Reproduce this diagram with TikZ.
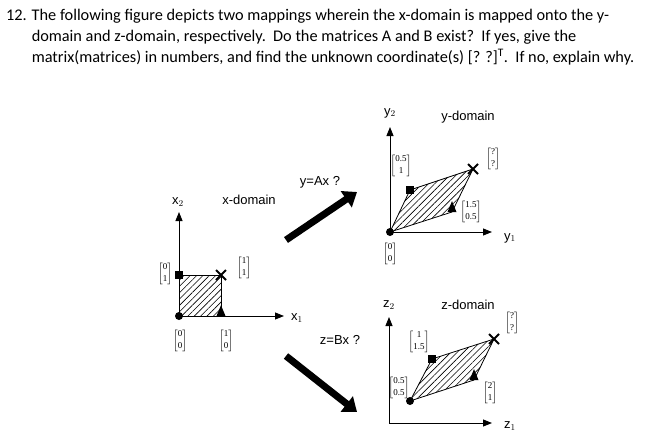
\documentclass[tikz,border=0pt]{standalone}
\usepackage{amsmath}
\usepackage{fontspec}
\setmainfont{Carlito}
\newfontfamily\arialf{Liberation Sans}
\newfontfamily\serf{Liberation Serif}
\usetikzlibrary{arrows.meta,patterns.meta,shapes.geometric,shapes.misc}
\tikzset{
 ax/.style={line width=0.9pt,-{Triangle[length=9pt,width=7pt]}},
 lab/.style={font=\arialf\fontsize{13}{13}\selectfont,inner sep=0},
 mat/.style={font=\serf\fontsize{9}{9}\selectfont,inner sep=0},
 region/.style={draw,line width=0.8pt,pattern={Lines[angle=45,distance=4.5pt,line width=0.6pt]}},
 big/.style={line width=7pt,-{Triangle[length=13pt,width=19pt]}},
 dotm/.style={circle,fill,inner sep=0,minimum size=8pt},
 sqm/.style={rectangle,fill,inner sep=0,minimum size=8pt},
 trim/.style={isosceles triangle,shape border rotate=90,fill,inner sep=0,minimum height=7pt,minimum width=9pt},
 xm/.style={cross out,draw,line width=2pt,inner sep=0,minimum size=8pt}
}
\newcommand{\vm}[2]{$\left[\begin{matrix}\text{#1}\\[3pt]\text{#2}\end{matrix}\right]$}
\begin{document}
\begin{tikzpicture}[x=1pt,y=-1pt]
\useasboundingbox[fill=white] (0,0) rectangle (646,434);
\node[anchor=west,align=left,font=\fontsize{16.3}{21}\selectfont,inner sep=0] (q) at (6,37) {12. The following figure depicts two mappings wherein the x-domain is mapped onto the y-\\
\hphantom{12. }domain and z-domain, respectively.\ \ Do the matrices A and B exist?\ \ If yes, give the\\
\hphantom{12. }matrix(matrices) in numbers, and find the unknown coordinate(s) [? ?]$^{\mathrm{T}}$.\ \ If no, explain why.};
% x-domain
\coordinate (xo) at (179,316);
\coordinate (xt) at (179,212);
\coordinate (xr) at (284,316);
\filldraw[region] (179,316) rectangle (221,275);
\draw[ax] (xo) -- (xt);
\draw[ax] (xo) -- (xr);
\node[dotm] (x0) at (179,316) {};
\node[sqm] (x01) at (179,275) {};
\node[trim] (x10) at (221,313) {};
\node[xm] (x11) at (221,275) {};
\node[lab] at (178,202) {x$_2$};
\node[lab] at (249,200) {x-domain};
\node[lab] at (297,318) {x$_1$};
\node[mat] at (165,274) {\vm{0}{1}};
\node[mat] at (244,268) {\vm{1}{1}};
\node[mat] at (180,341) {\vm{0}{0}};
\node[mat] at (226,341) {\vm{1}{0}};
% y-domain
\coordinate (yo) at (390,232);
\filldraw[region] (390,232) -- (410,190) -- (473,169) -- (452,212) -- cycle;
\draw[ax] (yo) -- (390,127);
\draw[ax] (yo) -- (492,232);
\node[dotm] at (390,232) {};
\node[sqm] at (410,190) {};
\node[trim] at (452,209) {};
\node[xm] at (473,169) {};
\node[lab] at (390,113) {y$_2$};
\node[lab] at (468,117) {y-domain};
\node[lab] at (510,238) {y$_1$};
\node[mat] at (401,166) {\vm{0.5}{1}};
\node[mat] at (493,159) {\vm{?}{?}};
\node[mat] at (471,212) {\vm{1.5}{0.5}};
\node[mat] at (390,254) {\vm{0}{0}};
% z-domain
\coordinate (zo) at (389,423);
\filldraw[region] (410,401) -- (432,359) -- (494,339) -- (474,380) -- cycle;
\draw[ax] (zo) -- (389,317);
\draw[ax] (zo) -- (492,423);
\node[dotm] at (410,401) {};
\node[sqm] at (432,359) {};
\node[trim] at (474,377) {};
\node[xm] at (494,339) {};
\node[lab] at (389,305) {z$_2$};
\node[lab] at (468,305) {z-domain};
\node[lab] at (510,426) {z$_1$};
\node[mat] at (419,342) {\vm{1}{1.5}};
\node[mat] at (512,323) {\vm{?}{?}};
\node[mat] at (399,388) {\vm{0.5}{0.5}};
\node[mat] at (490,393) {\vm{2}{1}};
% mapping arrows
\coordinate (a1) at (286,240);
\coordinate (a2) at (357,192);
\coordinate (b1) at (286,356);
\coordinate (b2) at (357,412);
\draw[big] (a1) -- (a2);
\draw[big] (b1) -- (b2);
\node[lab] at (320,182) {y=Ax ?};
\node[lab] at (340,340) {z=Bx ?};
\end{tikzpicture}
\end{document}
